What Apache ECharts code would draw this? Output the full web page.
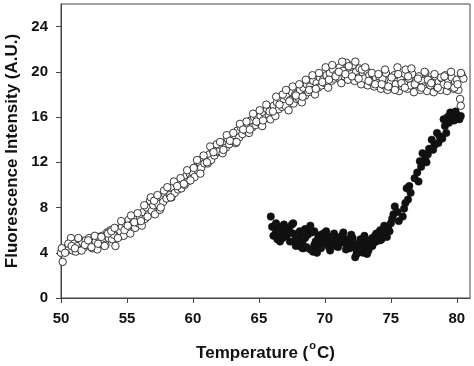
<!DOCTYPE html>
<html><head><meta charset="utf-8">
<script src="https://cdn.jsdelivr.net/npm/echarts@6/dist/echarts.min.js"></script>
<style>html,body{margin:0;padding:0;background:#fff}#c{width:474px;height:366px}</style>
</head><body><div id="c"></div>
<script>
const xTicks = [50,55,60,65,70,75,80];
const yTicks = [0,4,8,12,16,20,24];
// open circles: [temperature, intensity]
const openSeries = [
[50.0,4.0],[50.125,3.2],[50.25,4.3],[50.375,4.1],[50.5,4.5],[50.625,4.4],[50.75,5.3],[50.875,4.2],
[51.0,4.8],[51.125,4.1],[51.25,4.6],[51.375,5.2],[51.5,4.3],[51.625,4.9],[51.75,4.5],[51.875,5.1],
[52.0,4.7],[52.125,5.3],[52.25,4.9],[52.375,4.4],[52.5,5.2],[52.625,5.0],[52.75,4.3],[52.875,5.4],
[53.0,4.8],[53.125,5.5],[53.25,5.1],[53.375,4.7],[53.5,5.8],[53.625,5.3],[53.75,6.0],[53.875,5.2],
[54.0,5.6],[54.125,4.6],[54.25,6.1],[54.375,5.4],[54.5,5.9],[54.625,6.3],[54.75,5.5],[54.875,6.6],
[55.0,6.0],[55.125,6.9],[55.25,5.7],[55.375,6.5],[55.5,7.0],[55.625,6.2],[55.75,7.2],[55.875,6.6],
[56.0,7.1],[56.125,6.4],[56.25,7.6],[56.375,7.0],[56.5,8.0],[56.625,7.4],[56.75,8.6],[56.875,7.7],
[57.0,8.2],[57.125,7.4],[57.25,8.8],[57.375,8.3],[57.5,7.8],[57.625,9.0],[57.75,8.5],[57.875,9.2],
[58.0,8.8],[58.125,9.5],[58.25,9.1],[58.375,8.9],[58.5,9.8],[58.625,9.3],[58.75,10.1],[58.875,9.6],
[59.0,10.2],[59.125,9.7],[59.25,10.5],[59.375,10.0],[59.5,10.8],[59.625,10.3],[59.75,11.0],[59.875,10.6],
[60.0,11.1],[60.125,10.7],[60.25,11.6],[60.375,11.3],[60.5,12.0],[60.625,11.5],[60.75,12.3],[60.875,11.9],
[61.0,12.4],[61.125,11.9],[61.25,12.7],[61.375,12.2],[61.5,13.1],[61.625,12.6],[61.75,13.3],[61.875,12.9],
[62.0,13.0],[62.125,13.5],[62.25,12.8],[62.375,13.7],[62.5,13.3],[62.625,14.1],[62.75,13.6],[62.875,14.3],
[63.0,13.9],[63.125,14.4],[63.25,13.7],[63.375,14.8],[63.5,14.2],[63.625,15.1],[63.75,14.5],[63.875,15.3],
[64.0,14.8],[64.125,15.4],[64.25,14.6],[64.375,15.7],[64.5,15.1],[64.625,16.0],[64.75,15.3],[64.875,15.9],
[65.0,15.5],[65.125,16.1],[65.25,15.2],[65.375,16.4],[65.5,15.9],[65.625,16.7],[65.75,16.2],[65.875,15.8],
[66.0,16.4],[66.125,17.0],[66.25,16.1],[66.375,17.3],[66.5,16.7],[66.625,17.6],[66.75,16.9],[66.875,17.4],
[67.0,17.0],[67.125,17.8],[67.25,16.6],[67.375,17.5],[67.5,18.2],[67.625,17.2],[67.75,18.0],[67.875,17.6],
[68.0,17.7],[68.125,18.4],[68.25,17.3],[68.375,18.6],[68.5,17.9],[68.625,18.9],[68.75,18.2],[68.875,18.7],
[69.0,18.4],[69.125,19.2],[69.25,18.0],[69.375,19.0],[69.5,18.6],[69.625,19.5],[69.75,18.8],[69.875,19.3],
[70.0,19.0],[70.125,19.7],[70.25,18.6],[70.375,19.9],[70.5,19.2],[70.625,20.2],[70.75,19.4],[70.875,19.8],
[71.0,19.5],[71.125,20.4],[71.25,19.0],[71.375,20.1],[71.5,19.6],[71.625,20.8],[71.75,19.3],[71.875,20.3],
[72.0,19.8],[72.125,20.6],[72.25,19.2],[72.375,20.0],[72.5,19.5],[72.625,20.3],[72.75,18.9],[72.875,19.9],
[73.0,19.4],[73.125,20.1],[73.25,18.8],[73.375,19.7],[73.5,19.1],[73.625,19.8],[73.75,18.7],[73.875,19.5],
[74.0,19.0],[74.125,19.6],[74.25,18.5],[74.375,19.4],[74.5,18.8],[74.625,19.9],[74.75,18.4],[74.875,19.2],
[75.0,19.1],[75.125,18.6],[75.25,19.7],[75.375,18.9],[75.5,20.4],[75.625,18.3],[75.75,19.3],[75.875,18.7],
[76.0,19.0],[76.125,20.2],[76.25,18.5],[76.375,19.4],[76.5,18.8],[76.625,19.8],[76.75,18.2],[76.875,19.1],
[77.0,18.9],[77.125,19.6],[77.25,18.4],[77.375,19.2],[77.5,18.7],[77.625,19.9],[77.75,18.3],[77.875,19.0],
[78.0,18.8],[78.125,19.3],[78.25,18.2],[78.375,19.6],[78.5,18.6],[78.625,19.1],[78.75,18.4],[78.875,19.4],
[79.0,18.9],[79.125,19.7],[79.25,18.3],[79.375,19.2],[79.5,18.7],[79.625,19.5],[79.75,18.5],[79.875,19.1],
[80.0,19.3],[80.125,18.4],[80.25,17.6],[80.375,19.7],[80.5,19.4],[80.3,17.0],
[50.06,4.4],[50.31,4.0],[50.56,4.8],[50.81,4.6],
[51.06,4.4],[51.31,5.3],[51.56,4.2],[51.81,4.7],
[52.06,5.1],[52.31,4.5],[52.56,5.5],[52.81,4.8],
[53.06,5.4],[53.31,4.6],[53.56,5.7],[53.81,5.9],
[54.06,6.2],[54.31,5.3],[54.56,6.8],[54.81,6.0],
[55.06,6.4],[55.31,7.3],[55.56,6.7],[55.81,7.5],
[56.06,6.8],[56.31,8.2],[56.56,7.2],[56.81,8.9],
[57.06,8.6],[57.31,9.1],[57.56,8.0],[57.81,9.5],
[58.06,9.8],[58.31,8.9],[58.56,10.3],[58.81,9.9],
[59.06,10.6],[59.31,10.1],[59.56,11.3],[59.81,10.4],
[60.06,11.5],[60.31,12.2],[60.56,11.0],[60.81,12.6],
[61.06,12.0],[61.31,13.4],[61.56,12.9],[61.81,13.6],
[62.06,13.8],[62.31,13.1],[62.56,14.4],[62.81,13.9],
[63.06,14.6],[63.31,13.8],[63.56,15.4],[63.81,14.9],
[64.06,15.6],[64.31,14.9],[64.56,16.3],[64.81,15.6],
[65.06,16.6],[65.31,15.7],[65.56,17.1],[65.81,16.5],
[66.06,16.5],[66.31,17.8],[66.56,17.1],[66.81,18.0],
[67.06,18.4],[67.31,17.4],[67.56,18.7],[67.81,17.9],
[68.06,18.9],[68.31,17.8],[68.56,19.3],[68.81,18.4],
[69.06,19.7],[69.31,18.5],[69.56,19.9],[69.81,19.1],
[70.06,20.4],[70.31,19.3],[70.56,20.6],[70.81,19.6],
[71.06,20.0],[71.31,20.9],[71.56,19.8],[71.81,20.5],
[72.06,19.6],[72.31,20.9],[72.56,19.4],[72.81,20.2],
[73.06,20.4],[73.31,19.2],[73.56,19.9],[73.81,18.9],
[74.06,19.8],[74.31,18.9],[74.56,20.2],[74.81,18.7],
[75.06,19.5],[75.31,18.4],[75.56,19.8],[75.81,19.0],
[76.06,18.6],[76.31,19.6],[76.56,20.3],[76.81,18.9],
[77.06,19.4],[77.31,18.6],[77.56,20.0],[77.81,19.3],
[78.06,19.0],[78.31,19.8],[78.56,18.6],[78.81,19.5],
[79.06,19.6],[79.31,18.8],[79.56,20.0],[79.81,18.6],
[80.06,18.9],[80.31,19.9]
];
// filled circles: [temperature, intensity]
const filledSeries = [
[65.9,7.2],[66.1,5.5],[66.2,6.4],[66.3,5.9],[66.4,5.2],[66.5,6.0],[66.6,5.6],[66.7,6.3],[66.8,5.3],[66.9,5.8],
[67.0,6.2],[67.1,5.5],[67.2,5.9],[67.35,5.0],[67.5,6.5],[67.6,5.7],[67.7,4.9],[67.8,5.3],[67.9,4.7],[68.0,5.2],
[68.1,4.6],[68.2,5.5],[68.3,5.0],[68.4,4.4],[68.5,5.3],[68.6,4.5],[68.7,5.6],[68.8,6.0],[68.9,6.4],[69.0,5.8],
[69.1,4.1],[69.2,4.7],[69.3,5.0],[69.4,4.3],[69.5,5.4],[69.6,4.9],[69.7,5.6],[69.8,5.1],[69.9,5.7],[70.0,5.3],
[70.1,4.8],[70.2,5.5],[70.3,4.5],[70.4,5.2],[70.5,4.9],[70.6,5.4],[70.7,5.0],[70.8,4.6],[70.9,5.3],[71.0,5.1],
[71.1,4.8],[71.2,5.4],[71.4,5.8],[71.5,4.9],[71.6,5.2],[71.7,4.6],[71.8,5.0],[71.9,4.4],[72.0,4.9],[72.1,5.3],
[72.2,4.6],[72.3,3.6],[72.4,4.3],[72.5,4.8],[72.6,4.1],[72.7,5.2],[72.8,4.5],[72.9,4.0],[73.0,4.9],[73.1,4.3],
[73.2,3.9],[73.3,4.7],[73.4,5.1],[73.5,4.6],[73.6,5.3],[73.7,4.9],[73.8,5.5],[73.9,5.0],[74.0,5.4],[74.1,5.8],
[74.2,6.0],[74.3,5.2],[74.4,5.6],[74.6,6.1],[74.7,5.4],[74.8,6.3],[75.0,6.6],[75.2,7.4],[75.3,8.1],[75.5,7.6],
[75.9,7.2],[76.0,7.9],[76.2,9.7],[76.3,8.7],[76.5,9.3],[77.0,11.1],[77.1,10.3],[77.2,12.1],[77.4,12.8],[77.6,12.3],
[77.7,12.0],[77.9,13.2],[78.1,14.0],[78.3,13.5],[78.6,13.7],[78.7,14.3],[78.9,14.1],[79.0,15.8],[79.2,14.6],[79.3,16.0],
[79.5,16.4],[79.7,16.1],[79.8,15.7],[80.0,16.2],[80.1,15.9],[80.2,15.8],
[66.0,6.3],[66.3,6.6],[66.6,5.0],[66.9,6.5],[67.3,6.2],[67.6,6.6],[67.8,4.6],[68.1,5.9],[68.3,4.4],[68.5,6.1],
[68.9,4.3],[69.2,5.9],[69.4,4.0],[69.7,4.4],[70.1,5.9],[70.4,4.2],[70.7,5.7],[71.0,4.5],[71.3,5.5],[71.6,4.3],
[72.0,5.6],[72.4,3.9],[72.7,4.4],[73.0,5.5],[73.3,4.2],[73.6,4.6],[73.9,5.7],[74.2,5.1],[74.5,6.4],[74.9,5.9],
[75.1,7.0],[75.6,6.8],[76.1,8.4],[76.4,9.9],[76.8,10.6],[77.3,11.6],[77.8,12.7],[78.2,13.1],[78.5,14.6],[79.1,15.2],
[79.4,15.5],[79.9,16.5],[80.3,16.1]
];
const xTitle = 'Temperature (';
const yTitle = 'Fluorescence Intensity (A.U.)';

const chart = echarts.init(document.getElementById('c'), null, {renderer:'canvas'});
const fontFamily = '"Liberation Sans", Arial, sans-serif';
chart.setOption({
  animation:false,
  backgroundColor:'#fff',
  grid:{left:61,right:4,top:4,bottom:68,outerBoundsMode:'none',containLabel:false,show:true,borderColor:'#444',borderWidth:1,backgroundColor:'transparent'},
  xAxis:{
    type:'value',min:50,max:81,
    axisLine:{show:true,lineStyle:{color:'#444',width:1}},
    axisTick:{show:true,inside:false,length:5,customValues:xTicks,lineStyle:{color:'#444'}},
    axisLabel:{customValues:xTicks,margin:13,color:'#111',fontSize:15,fontWeight:'bold',fontFamily:fontFamily},
    splitLine:{show:false},
    name:'{a|'+xTitle+'}{s|o}{a|C)}',nameLocation:'middle',nameGap:44,
    nameTextStyle:{rich:{
      a:{fontSize:17,fontWeight:'bold',color:'#111',fontFamily:fontFamily,lineHeight:22},
      s:{fontSize:11,fontWeight:'bold',color:'#111',fontFamily:fontFamily,lineHeight:22,padding:[0,1,14,1]}
    }}
  },
  yAxis:{
    type:'value',min:0,max:26,
    axisLine:{show:true,lineStyle:{color:'#444',width:1}},
    axisTick:{show:true,inside:false,length:5,customValues:yTicks,lineStyle:{color:'#444'}},
    axisLabel:{customValues:yTicks,margin:13,color:'#111',fontSize:15,fontWeight:'bold',fontFamily:fontFamily},
    splitLine:{show:false},
    name:yTitle,nameLocation:'middle',nameGap:38,
    nameTextStyle:{fontSize:17,fontWeight:'bold',color:'#111',fontFamily:fontFamily}
  },
  series:[
    {type:'scatter',data:openSeries,symbol:'circle',symbolSize:7.5,
     itemStyle:{color:'#fff',borderColor:'#222',borderWidth:0.9,opacity:1}},
    {type:'scatter',data:filledSeries,symbol:'circle',symbolSize:7.5,
     itemStyle:{color:'#111',borderColor:'#111',borderWidth:0.5,opacity:1}}
  ]
});
</script></body></html>
